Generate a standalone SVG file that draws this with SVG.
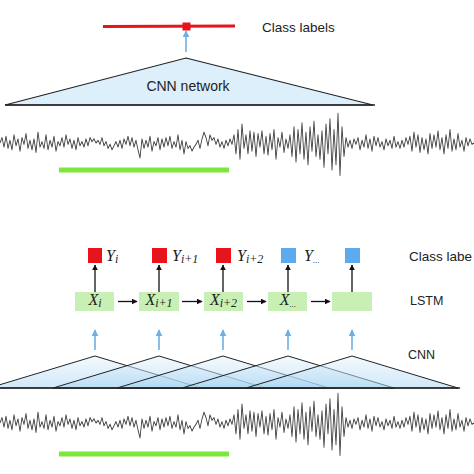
<svg xmlns="http://www.w3.org/2000/svg" width="474" height="474" viewBox="0 0 474 474">
<style>
.lbl{font-family:"Liberation Sans",Arial,sans-serif;fill:#222}
.math{font-family:"Liberation Serif","Times New Roman",serif;font-style:italic;fill:#222}
.sig{fill:none;stroke:#3a3a3a;stroke-width:0.85;stroke-linejoin:round}
.green{fill:#7ee83a}
.lstm{fill:#c8f0b4}
.tri{fill:url(#tg);stroke:#222;stroke-width:1}
.blk{stroke:#111;stroke-width:1.3;fill:none}
.blu{stroke:#6fb0e4;stroke-width:1.6;fill:none}
</style>
<defs>
<linearGradient id="tg" x1="0" y1="0" x2="0" y2="1">
<stop offset="0" stop-color="#e4f2fc" stop-opacity="0.5"/>
<stop offset="1" stop-color="#a9d6f3" stop-opacity="0.55"/>
</linearGradient>
<marker id="ab" viewBox="0 0 10 10" refX="9" refY="5" markerWidth="6" markerHeight="6" orient="auto" markerUnits="userSpaceOnUse"><path d="M0,0L10,5L0,10z" fill="#111"/></marker>
<marker id="au" viewBox="0 0 10 10" refX="9" refY="5" markerWidth="7" markerHeight="7" orient="auto" markerUnits="userSpaceOnUse"><path d="M0,0L10,5L0,10z" fill="#6fb0e4"/></marker>
<polyline id="sig" class="sig" transform="scale(1,1.35)" points="0,0 2,-4 4,3 6,-5 8,4 10,-2 12,5 14,-6 16,2 18,-3 20,6 22,-4 24,1 26,-7 28,4 30,-2 32,5 34,-3 36,7 38,-8 40,3 42,-1 44,4 46,-6 48,5 50,-2 52,3 54,-5 56,6 58,-1 60,2 62,-4 64,3 66,-6 68,1 70,-3 72,4 74,-2 76,5 78,-4 80,2 82,-1 84,3 86,-3 88,2 90,-4 92,-1 94,-3 96,0 98,-2 100,1 102,-4 104,2 106,-1 108,4 110,1 112,5 114,2 116,-1 118,3 120,-2 122,4 124,-3 126,1 128,-5 130,2 132,-4 134,3 136,-2 138,5 140,11 142,-3 144,4 146,-2 148,3 150,-5 152,6 154,-1 156,2 158,-4 160,5 162,-3 164,3 166,-4 168,2 170,-5 172,4 174,-1 176,3 178,-6 180,5 182,-2 184,8 186,-1 188,4 190,2 192,6 194,3 196,1 198,-2 200,4 202,-3 204,-8 206,-4 208,2 210,-6 212,-2 214,-4 216,1 218,-3 220,3 222,-1 224,4 226,-2 228,2 230,-3 232,1 234,-6 236,8 238,-10 240,12 242,-14 244,4 246,-6 248,8 250,-9 252,6 254,-8 256,10 258,-7 260,3 262,-9 264,8 266,-5 268,9 270,-7 272,5 274,-10 276,12 278,-4 280,3 282,-8 284,7 286,-3 288,4 290,-6 292,10 294,-12 296,14 298,-10 300,8 302,-15 304,12 306,-8 308,16 310,-12 312,6 314,-16 316,10 318,-6 320,12 322,-9 324,18 326,-14 328,8 330,-18 332,20 334,-10 336,16 338,-22 340,24 342,-12 344,10 346,-4 348,3 350,-2 352,4 354,-3 356,1 358,-4 360,5 362,-2 364,3 366,-6 368,4 370,-3 372,6 374,-5 376,2 378,-4 380,3 382,-1 384,5 386,-3 388,2 390,-2 392,4 394,-5 396,3 398,-1 400,4 402,-2 404,3 406,-4 408,1 410,-5 412,6 414,-8 416,3 418,-6 420,7 422,-4 424,5 426,-3 428,8 430,-7 432,4 434,-6 436,3 438,-9 440,5 442,-4 444,8 446,-6 448,4 450,-10 452,6 454,-3 456,5 458,-7 460,3 462,-2 464,6 466,-4 468,2 470,-3 472,1 474,0"/>
</defs>

<g id="top-labels">
<line x1="103" y1="26.5" x2="235" y2="26" stroke="#e8141c" stroke-width="3"/>
<rect x="182.5" y="22.5" width="8" height="8" fill="#e8141c"/>
<text class="lbl" x="262" y="32" font-size="13.5">Class labels</text>
</g>
<g id="top-cnn">
<polygon points="186,58 373,105 5,105" fill="#ddeffb" stroke="#222" stroke-width="1.1"/>
<line x1="5" y1="105" x2="375" y2="105" stroke="#222" stroke-width="1.6"/>
<text class="lbl" x="188" y="91" font-size="14" text-anchor="middle">CNN network</text>
</g>
<g id="signal-top">
<use href="#sig" y="143"/>
<rect class="green" x="59" y="167.5" width="170" height="5"/>
</g>

<g id="bottom-cnn">
<polygon class="tri" points="95,356 201,388 -11,388"/>
<polygon class="tri" points="159,356 265,388 53,388"/>
<polygon class="tri" points="223,356 329,388 117,388"/>
<polygon class="tri" points="288,356 394,388 182,388"/>
<polygon class="tri" points="352,356 458,388 246,388"/>
<line x1="0" y1="388" x2="460" y2="388" stroke="#222" stroke-width="1.6"/>
<text class="lbl" x="408" y="359" font-size="12.5">CNN</text>
</g>

<g id="lstm">
<rect class="lstm" x="75" y="292" width="39" height="19"/>
<rect class="lstm" x="139" y="292" width="40" height="19"/>
<rect class="lstm" x="204" y="292" width="39" height="19"/>
<rect class="lstm" x="268" y="292" width="39" height="19"/>
<rect class="lstm" x="332" y="292" width="40" height="19"/>
<text class="math" x="95" y="305" font-size="16" text-anchor="middle">X<tspan font-size="12" dy="2">i</tspan></text>
<text class="math" x="159" y="305" font-size="16" text-anchor="middle">X<tspan font-size="12" dy="2">i+1</tspan></text>
<text class="math" x="223.5" y="305" font-size="16" text-anchor="middle">X<tspan font-size="12" dy="2">i+2</tspan></text>
<text class="math" x="288" y="305" font-size="16" text-anchor="middle">X<tspan font-size="9" dy="2">...</tspan></text>
<text class="lbl" x="410" y="305" font-size="12.5">LSTM</text>
</g>

<g id="outputs">
<rect x="88" y="248" width="14" height="15" fill="#e8141c"/>
<rect x="152" y="248" width="15" height="15" fill="#e8141c"/>
<rect x="216" y="248" width="15" height="15" fill="#e8141c"/>
<rect x="281" y="248" width="15" height="15" fill="#5eaaee"/>
<rect x="345" y="248" width="15" height="15" fill="#5eaaee"/>
<text class="math" x="106" y="261" font-size="16">Y<tspan font-size="12" dy="2">i</tspan></text>
<text class="math" x="172" y="261" font-size="16">Y<tspan font-size="12" dy="2">i+1</tspan></text>
<text class="math" x="237" y="261" font-size="16">Y<tspan font-size="12" dy="2">i+2</tspan></text>
<text class="math" x="304" y="261" font-size="16">Y<tspan font-size="9" dy="2">...</tspan></text>
<text class="lbl" x="409" y="261" font-size="13.5">Class labe</text>
</g>

<g id="signal-bottom">
<use href="#sig" y="423"/>
<rect class="green" x="59" y="451.5" width="170" height="5"/>
</g>

<g id="connectors">
<line class="blu" x1="186" y1="52" x2="186" y2="31" marker-end="url(#au)"/>
<line class="blk" x1="95" y1="292" x2="95" y2="265" marker-end="url(#ab)"/>
<line class="blk" x1="159" y1="292" x2="159" y2="265" marker-end="url(#ab)"/>
<line class="blk" x1="223" y1="292" x2="223" y2="265" marker-end="url(#ab)"/>
<line class="blk" x1="288" y1="292" x2="288" y2="265" marker-end="url(#ab)"/>
<line class="blk" x1="352" y1="292" x2="352" y2="265" marker-end="url(#ab)"/>
<line class="blk" x1="118" y1="301.5" x2="137" y2="301.5" marker-end="url(#ab)"/>
<line class="blk" x1="182" y1="301.5" x2="202" y2="301.5" marker-end="url(#ab)"/>
<line class="blk" x1="247" y1="301.5" x2="266" y2="301.5" marker-end="url(#ab)"/>
<line class="blk" x1="311" y1="301.5" x2="330" y2="301.5" marker-end="url(#ab)"/>
<line class="blu" x1="95" y1="350" x2="95" y2="330" marker-end="url(#au)"/>
<line class="blu" x1="159" y1="350" x2="159" y2="330" marker-end="url(#au)"/>
<line class="blu" x1="223" y1="350" x2="223" y2="330" marker-end="url(#au)"/>
<line class="blu" x1="288" y1="350" x2="288" y2="330" marker-end="url(#au)"/>
<line class="blu" x1="352" y1="350" x2="352" y2="330" marker-end="url(#au)"/>
</g>
</svg>
